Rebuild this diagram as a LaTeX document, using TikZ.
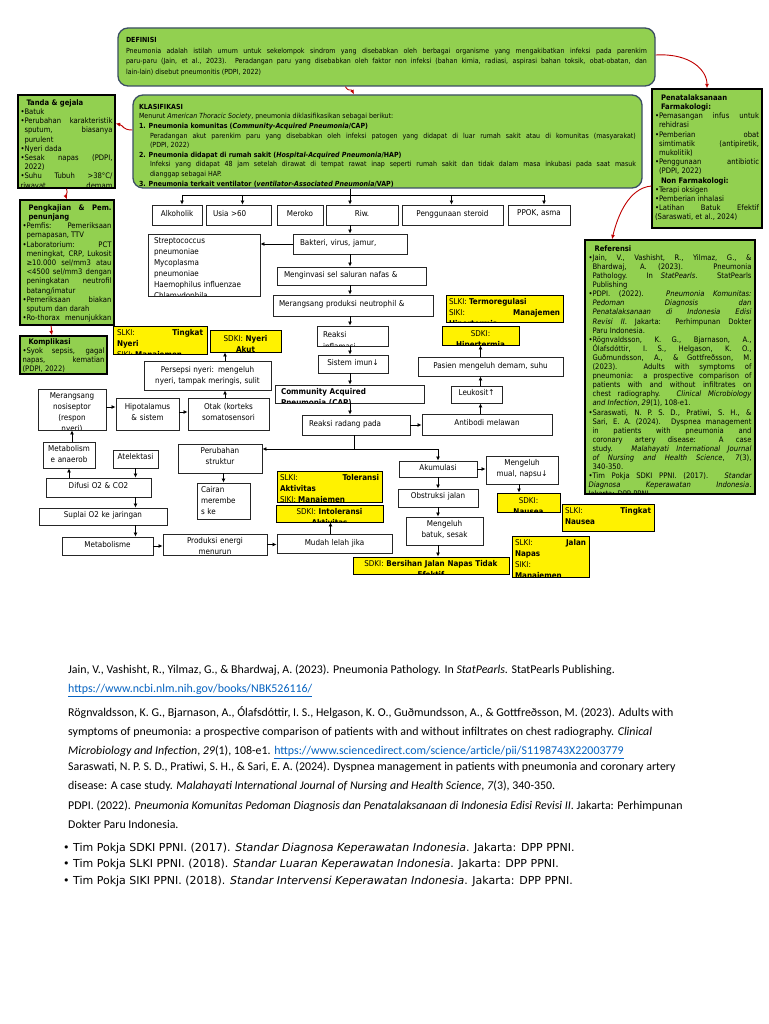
\documentclass[tikz,border=0pt]{standalone}
\usepackage{fontspec}
\IfFontExistsTF{DejaVu Sans Condensed}{\setmainfont{DejaVu Sans Condensed}}{\setmainfont{DejaVu Sans}}
\newfontfamily\dvsans{DejaVu Sans}
\newfontfamily\calib{Carlito}
\usetikzlibrary{arrows.meta, positioning, calc}
\definecolor{leafgreen}{HTML}{92D050}
\definecolor{slate}{HTML}{3B4E63}
\definecolor{linkred}{HTML}{C00000}
\definecolor{urlblue}{HTML}{0563C1}
\hyphenpenalty=10000
\exhyphenpenalty=10000
\tolerance=10000
\hbadness=10000
\hfuzz=100pt
\newcommand{\dfont}{\fontsize{7}{10.7}\selectfont}
\newcommand{\kfont}{\fontsize{7}{9.6}\selectfont}
\newcommand{\gfont}{\fontsize{7.6}{9.2}\selectfont}
\newcommand{\rfont}{\fontsize{7.6}{9.1}\selectfont}
\newcommand{\sfont}{\fontsize{8}{11}\selectfont}
\newcommand{\bitem}{\par\hangindent=4pt\hangafter=1\noindent\makebox[4pt][l]{\textbullet}}
\newcommand{\ttl}[1]{\par{\leftskip=6pt\noindent\textbf{#1}\par}}
\newcommand{\ind}[1]{\par{\leftskip=11pt\noindent #1\par}}
\tikzset{
  tpad/.store in=\txtpad, tpad=4.5pt,
  txt/.style n args={3}{path picture={%
      \node[anchor=north, inner sep=0pt, minimum size=0pt, text width=#1, align=#2]
        at ([yshift=-\txtpad]path picture bounding box.north) {#3};}},
  wbox/.style={rectangle, draw=black!85, line width=0.9pt, fill=white,
               inner sep=0pt, font=\sfont},
  ybox/.style={wbox, draw=black, fill=yellow},
  gbox/.style={rectangle, draw=black, line width=1.3pt, fill=leafgreen,
               inner sep=0pt, font=\gfont},
  rbox/.style={gbox, draw=slate, rounded corners=10pt, tpad=8.5pt},
  arr/.style={-{Latex[length=4pt, width=4pt]}, line width=0.8pt},
  link/.style={draw=linkred, line width=0.9pt, -{Latex[length=4.5pt, width=4pt]}},
  bib/.style={inner sep=0pt, align=left, font=\calib\fontsize{11.9}{19}\selectfont},
  bibitem/.style={inner sep=0pt, align=left, font=\dvsans\fontsize{11}{16.8}\selectfont},
}

\begin{document}
\begin{tikzpicture}[x=1pt, y=-1pt]
  \path[fill=white] (0,0) rectangle (768,1024);

  %% green boxes: definition, classification, side columns
  \node[rbox, minimum width=537, minimum height=58, font=\dfont,
    txt={521pt}{justify}{\textbf{DEFINISI}\\ Pneumonia adalah istilah umum untuk sekelompok sindrom yang disebabkan oleh berbagai organisme yang mengakibatkan infeksi pada parenkim\linebreak paru-paru (Jain, et al., 2023). Peradangan paru yang disebabkan oleh faktor non infeksi (bahan kimia, radiasi, aspirasi bahan toksik, obat-obatan, dan\linebreak lain-lain) disebut pneumonitis (PDPI, 2022)}] (def) at (386.5,57) {};
  \node[rbox, minimum width=509, minimum height=93, font=\kfont,
    txt={497pt}{justify}{\textbf{KLASIFIKASI}\\ Menurut \textit{American Thoracic Society}, pneumonia diklasifikasikan sebagai berikut:\\ \textbf{1. Pneumonia komunitas (\textit{Community-Acquired Pneumonia}/CAP)}\ind{Peradangan akut parenkim paru yang disebabkan oleh infeksi patogen yang didapat di luar rumah sakit atau di komunitas (masyarakat)\linebreak (PDPI, 2022)}\textbf{2. Pneumonia didapat di rumah sakit (\textit{Hospital-Acquired Pneumonia}/HAP)}\ind{Infeksi yang didapat 48 jam setelah dirawat di tempat rawat inap seperti rumah sakit dan tidak dalam masa inkubasi pada saat masuk\linebreak dianggap sebagai HAP.}\textbf{3. Pneumonia terkait ventilator (\textit{ventilator-Associated Pneumonia}/VAP)}}] (klas) at (387.5,141.5) {};
  \node[gbox, minimum width=97, minimum height=93, tpad=0.5pt,
    txt={92pt}{justify}{\ttl{Tanda \& gejala}\bitem Batuk\bitem Perubahan karakteristik\linebreak sputum, biasanya\linebreak purulent\bitem Nyeri dada\bitem Sesak napas (PDPI,\linebreak 2022)\bitem Suhu Tubuh >38°C/\linebreak riwayat\hfill demam}] (tanda) at (66.5,141.5) {};
  \node[gbox, minimum width=94, minimum height=125, tpad=0.5pt,
    txt={89pt}{justify}{\ttl{Pengkajian \& Pem.\linebreak penunjang}\bitem Pemfis: Pemeriksaan\linebreak pernapasan, TTV\bitem Laboratorium: PCT\linebreak meningkat, CRP, Lukosit\linebreak ≥10.000 sel/mm3 atau\linebreak <4500 sel/mm3 dengan\linebreak peningkatan neutrofil\linebreak batang/imatur\bitem Pemeriksaan biakan\linebreak sputum dan darah\bitem Ro-thorax\hfill menunjukkan}] (peng) at (67,262.5) {};
  \node[gbox, minimum width=87, minimum height=38, tpad=-1.5pt,
    txt={82pt}{justify}{\ttl{Komplikasi}\bitem Syok sepsis, gagal\linebreak napas, kematian\linebreak (PDPI, 2022)}] (komp) at (63.5,355) {};
  \node[gbox, minimum width=110, minimum height=139, tpad=1.5pt,
    txt={104pt}{justify}{\ttl{Penatalaksanaan\\ Farmakologi:}\bitem Pemasangan infus untuk\linebreak rehidrasi\bitem Pemberian obat\linebreak simtimatik (antipiretik,\linebreak mukolitik)\bitem Penggunaan antibiotic\linebreak (PDPI, 2022)\ttl{Non Farmakologi:}\bitem Terapi oksigen\bitem Pemberian inhalasi\bitem Latihan Batuk Efektif\linebreak (Saraswati, et al., 2024)}] (pena) at (707,158.5) {};
  \node[gbox, minimum width=170, minimum height=254, tpad=1.5pt, font=\rfont,
    txt={163pt}{justify}{\ttl{Referensi}\bitem Jain, V., Vashisht, R., Yilmaz, G., \&\linebreak Bhardwaj, A. (2023). Pneumonia\linebreak Pathology. In \textit{StatPearls}. StatPearls\linebreak Publishing\bitem PDPI. (2022). \textit{Pneumonia Komunitas:\linebreak Pedoman Diagnosis dan\linebreak Penatalaksanaan di Indonesia Edisi\linebreak Revisi II}. Jakarta: Perhimpunan Dokter\linebreak Paru Indonesia.\bitem Rögnvaldsson, K. G., Bjarnason, A.,\linebreak Ólafsdóttir, I. S., Helgason, K. O.,\linebreak Guðmundsson, A., \& Gottfreðsson, M.\linebreak (2023). Adults with symptoms of\linebreak pneumonia: a prospective comparison of\linebreak patients with and without infiltrates on\linebreak chest radiography. \textit{Clinical Microbiology\linebreak and Infection}, \textit{29}(1), 108-e1.\bitem Saraswati, N. P. S. D., Pratiwi, S. H., \&\linebreak Sari, E. A. (2024). Dyspnea management\linebreak in patients with pneumonia and\linebreak coronary artery disease: A case\linebreak study. \textit{Malahayati International Journal\linebreak of Nursing and Health Science}, \textit{7}(3),\linebreak 340-350.\bitem Tim Pokja SDKI PPNI. (2017). \textit{Standar\linebreak Diagnosa Keperawatan Indonesia}.\linebreak Jakarta: DPP PPNI.}] (refs) at (670,367) {};

  %% risk factors row
  \node[wbox, minimum width=50, minimum height=20, txt={46pt}{center}{Alkoholik}] (alko) at (177,215) {};
  \node[wbox, minimum width=65, minimum height=20, txt={51pt}{left}{Usia >60}] (usia) at (238.5,215) {};
  \node[wbox, minimum width=46, minimum height=20, txt={42pt}{center}{Meroko}] (mero) at (300,215) {};
  \node[wbox, minimum width=72, minimum height=20, txt={68pt}{center}{Riw.}] (riw) at (362,215) {};
  \node[wbox, minimum width=101, minimum height=20, txt={97pt}{center}{Penggunaan steroid}] (ster) at (452.5,215) {};
  \node[wbox, minimum width=62, minimum height=20, txt={58pt}{center}{PPOK, asma}] (ppok) at (539,215) {};

  %% main chain
  \node[wbox, minimum width=114, minimum height=20, txt={100pt}{left}{Bakteri, virus, jamur,}] (bakt) at (350,244) {};
  \node[wbox, minimum width=112, minimum height=62, tpad=3pt,
    txt={100pt}{left}{Streptococcus\\ pneumoniae\\ Mycoplasma\\ pneumoniae\\ Haemophilus influenzae\\ Chlamydophila}] (strep) at (204,265) {};
  \node[wbox, minimum width=149, minimum height=18, tpad=3.5pt, txt={135pt}{left}{Menginvasi sel saluran nafas \&}] (inva) at (351.5,276) {};
  \node[wbox, minimum width=160, minimum height=21, txt={148pt}{left}{Merangsang produksi neutrophil \&}] (neut) at (353,305.5) {};
  \node[wbox, minimum width=71, minimum height=20, txt={59pt}{left}{Reaksi\\[1.5pt] inflamasi}] (reak) at (352.5,336) {};
  \node[wbox, minimum width=70, minimum height=18, tpad=3.5pt, txt={66pt}{center}{Sistem imun↓}] (imun) at (353,364) {};
  \node[wbox, minimum width=149, minimum height=18, tpad=3pt, txt={137pt}{left}{\textbf{Community Acquired}\\ \textbf{Pneumonia (CAP)}}] (cap) at (349.5,394) {};
  \node[wbox, minimum width=108, minimum height=20, txt={94pt}{left}{Reaksi radang pada}] (rad) at (356,425) {};
  \node[wbox, minimum width=130, minimum height=21, txt={126pt}{center}{Antibodi melawan}] (anti) at (487,424.5) {};
  \node[wbox, minimum width=51, minimum height=17, tpad=3pt, txt={47pt}{center}{Leukosit↑}] (leuk) at (476.5,394.5) {};
  \node[wbox, minimum width=145, minimum height=19, txt={141pt}{center}{Pasien mengeluh demam, suhu}] (pas) at (490.5,366.5) {};
  \node[ybox, minimum width=77, minimum height=19, txt={73pt}{center}{SDKI:\\ \textbf{Hipertermia}}] (sdkih) at (480.5,335.5) {};
  \node[ybox, minimum width=117, minimum height=27, tpad=3pt,
    txt={111pt}{justify}{SLKI: \textbf{Termoregulasi}\\ SIKI: \textbf{Manajemen}\linebreak \textbf{Hipertermia}}] (slkit) at (504.5,308.5) {};

  %% pain branch
  \node[ybox, minimum width=71, minimum height=22, txt={67pt}{center}{SDKI: \textbf{Nyeri}\\ \textbf{Akut}}] (sdkin) at (245.5,341) {};
  \node[ybox, minimum width=94, minimum height=28, tpad=3pt,
    txt={86pt}{justify}{SLKI: \textbf{Tingkat}\linebreak \textbf{Nyeri}\\ SIKI: \textbf{Manajemen}}] (slkin) at (160,340) {};
  \node[wbox, minimum width=127, minimum height=29, txt={123pt}{center}{Persepsi nyeri: mengeluh\\ nyeri, tampak meringis, sulit}] (pers) at (207.5,375.5) {};
  \node[wbox, minimum width=68, minimum height=41, tpad=3pt, txt={64pt}{center}{Merangsang\\ nosiseptor\\ (respon\\ nyeri)}] (noci) at (72,409.5) {};
  \node[wbox, minimum width=63, minimum height=32, txt={59pt}{center}{Hipotalamus\\ \& sistem}] (hipo) at (147.5,414) {};
  \node[wbox, minimum width=81, minimum height=32, txt={77pt}{center}{Otak (korteks\\ somatosensori}] (otak) at (228.5,414) {};

  %% oxygen / energy branch
  \node[wbox, minimum width=52, minimum height=26, tpad=3pt, txt={48pt}{center}{Metabolism\\ e anaerob}] (ana) at (69,455) {};
  \node[wbox, minimum width=45, minimum height=18, tpad=3pt, txt={43pt}{center}{Atelektasi}] (atel) at (135.5,459) {};
  \node[wbox, minimum width=105, minimum height=19, tpad=3.5pt, txt={101pt}{center}{Difusi O2 \& CO2}] (dif) at (98.5,487.5) {};
  \node[wbox, minimum width=128, minimum height=17, tpad=3pt, txt={124pt}{center}{Suplai O2 ke jaringan}] (sup) at (103,516.5) {};
  \node[wbox, minimum width=91, minimum height=18, tpad=3.5pt, txt={87pt}{center}{Metabolisme}] (meta) at (107.5,546) {};
  \node[wbox, minimum width=104, minimum height=21, tpad=3pt, txt={100pt}{center}{Produksi energi\\ menurun}] (prod) at (215,544.5) {};
  \node[wbox, minimum width=84, minimum height=29, tpad=3pt, txt={80pt}{center}{Perubahan\\ struktur}] (perub) at (220,458.5) {};
  \node[wbox, minimum width=53, minimum height=36, tpad=3pt, txt={45pt}{left}{Cairan\\ merembe\\ s ke}] (cair) at (223.5,501) {};
  \node[wbox, minimum width=115, minimum height=19, txt={111pt}{center}{Mudah lelah jika}] (mudah) at (334.5,543.5) {};
  \node[ybox, minimum width=107, minimum height=17, tpad=3pt, txt={103pt}{center}{SDKI: \textbf{Intoleransi}\\ \textbf{Aktivitas}}] (sdkii) at (329.5,513.5) {};
  \node[ybox, minimum width=105, minimum height=31, tpad=3pt,
    txt={99pt}{justify}{SLKI: \textbf{Toleransi}\linebreak \textbf{Aktivitas}\\ SIKI: \textbf{Manajemen}}] (slkito) at (329.5,486.5) {};

  %% airway branch
  \node[wbox, minimum width=78, minimum height=16, tpad=2.5pt, txt={74pt}{center}{Akumulasi}] (akum) at (438,469) {};
  \node[wbox, minimum width=72, minimum height=28, tpad=3pt, txt={68pt}{center}{Mengeluh\\ mual, napsu↓}] (mual) at (522,470) {};
  \node[ybox, minimum width=63, minimum height=19, txt={59pt}{center}{SDKI:\\ \textbf{Nausea}}] (sdkina) at (528.5,502.5) {};
  \node[wbox, minimum width=80, minimum height=18, tpad=3pt, txt={76pt}{center}{Obstruksi jalan}] (obst) at (438,498) {};
  \node[wbox, minimum width=77, minimum height=28, tpad=3pt, txt={73pt}{center}{Mengeluh\\ batuk, sesak}] (batuk) at (444.5,531) {};
  \node[ybox, minimum width=156, minimum height=17, tpad=3pt, txt={152pt}{center}{SDKI: \textbf{Bersihan Jalan Napas Tidak}\\ \textbf{Efektif}}] (sdkib) at (431,565.5) {};
  \node[ybox, minimum width=77, minimum height=41, tpad=3pt,
    txt={71pt}{justify}{SLKI: \textbf{Jalan}\linebreak \textbf{Napas}\\ SIKI:\\ \textbf{Manajemen}}] (slkij) at (550.5,556.5) {};
  \node[ybox, minimum width=92, minimum height=27, tpad=3pt,
    txt={86pt}{justify}{SLKI: \textbf{Tingkat}\linebreak \textbf{Nausea}}] (slkina) at (608,517.5) {};

  %% black connectors
  \coordinate (bus) at (350,195);
  \draw[line width=0.8pt] (bus |- klas.south) -- (bus);
  \draw[line width=0.8pt] ([xshift=5]alko.north |- bus) -- ([xshift=5]ppok.north |- bus);
  \foreach \n/\dx in {alko/5, usia/4, riw/-12, ster/-1, ppok/5}
    \draw[arr] ([xshift=\dx]\n.north |- bus) -- ([xshift=\dx]\n.north);
  \draw[arr] (bakt.north |- riw.south) -- (bakt.north);
  \draw[arr] (bakt.west) -- (strep.east |- bakt.west);
  \foreach \a/\b in {bakt/inva, inva/neut, neut/reak, reak/imun, imun/cap, cap/rad}
    \draw[arr] (\a.south -| bakt.south) -- (\b.north -| bakt.south);
  \draw[arr] (rad.east) -- (anti.west |- rad.east);
  \foreach \a/\b in {anti/leuk, leuk/pas, pas/sdkih}
    \draw[arr] (\a.north -| sdkih.south) -- (\b.south -| sdkih.south);
  \coordinate (split) at (354,449);
  \draw[line width=0.8pt] (split |- rad.south) -- (split);
  \draw[arr] (split) -- (perub.east |- split);
  \draw[arr] (split) -| (akum.north);
  \draw[arr] (akum.east) -- (mual.west |- akum.east);
  \draw[arr] ([xshift=-3]mual.south) -- ([xshift=-3]mual.south |- sdkina.north);
  \foreach \a/\b in {akum/obst, obst/batuk, batuk/sdkib}
    \draw[arr] (\a.south -| akum.south) -- (\b.north -| akum.south);
  \draw[arr] (perub.south -| cair.north) -- (cair.north);
  \draw[arr] ([xshift=-3.5]otak.north) -- ([xshift=-3.5]otak.north |- pers.south);
  \draw[arr] ([xshift=-3.5]otak.north |- pers.north) -- ([xshift=-3.5]otak.north |- sdkin.south);
  \draw[arr] ([yshift=2.5]noci.east) -- ([yshift=2.5]noci.east -| hipo.west);
  \draw[arr] ([yshift=2]hipo.east) -- ([yshift=2]hipo.east -| otak.west);
  \draw[arr] (ana.north -| noci.south) -- (noci.south);
  \draw[arr] (dif.north -| ana.south) -- (ana.south);
  \draw[arr] (atel.south) -- (atel.south |- dif.north);
  \draw[arr] (atel.south |- dif.south) -- (atel.south |- sup.north);
  \draw[arr] (atel.south |- sup.south) -- (atel.south |- meta.north);
  \draw[arr] (meta.east) -- (prod.west |- meta.east);
  \draw[arr] (prod.east) -- (mudah.west |- prod.east);
  \draw[arr] ([xshift=-4]mudah.north) -- ([xshift=-4]mudah.north |- sdkii.south);

  %% red links between the green boxes
  \draw[link] ([xshift=-41]def.south) .. controls +(3,6) and +(-3,-6) .. ([xshift=-33.5]klas.north);
  \draw[link] ([yshift=2]def.east) .. controls +(35,-2) and +(0,-18) .. (pena.north);
  \draw[link] ([yshift=11.5]klas.west) .. controls +(-10,0) and +(8,2) .. ([yshift=18]tanda.east);
  \draw[link] (tanda.south) .. controls +(2,6) and +(-2,-5) .. (peng.north);
  \draw[link] ([xshift=-16]peng.south) .. controls +(1,5) and +(-1,-5) .. ([xshift=-11.5]komp.north);
  \draw[link] ([yshift=-27.5]pena.west) .. controls +(-22,2) and +(6,-25) .. ([xshift=-58]refs.north);

  %% reference list below the map
  \node[bib, anchor=north west] (bibjain) at (68,664.5) {Jain, V., Vashisht, R., Yilmaz, G., \& Bhardwaj, A. (2023). Pneumonia Pathology. In \textit{StatPearls}. StatPearls Publishing.\\ \textcolor{urlblue}{\underline{https://www.ncbi.nlm.nih.gov/books/NBK526116/}}};
  \node[bib, anchor=north west] (bibrogn) at (68,706.5) {Rögnvaldsson, K. G., Bjarnason, A., Ólafsdóttir, I. S., Helgason, K. O., Guðmundsson, A., \& Gottfreðsson, M. (2023). Adults with\\ symptoms of pneumonia: a prospective comparison of patients with and without infiltrates on chest radiography. \textit{Clinical}\\ \textit{Microbiology and Infection}, \textit{29}(1), 108-e1. \textcolor{urlblue}{\underline{https://www.sciencedirect.com/science/article/pii/S1198743X22003779}}};
  \node[bib, anchor=north west] (bibsara) at (68,761.5) {Saraswati, N. P. S. D., Pratiwi, S. H., \& Sari, E. A. (2024). Dyspnea management in patients with pneumonia and coronary artery\\ disease: A case study. \textit{Malahayati International Journal of Nursing and Health Science}, \textit{7}(3), 340-350.};
  \node[bib, anchor=north west] (bibpdpi) at (68,800.5) {PDPI. (2022). \textit{Pneumonia Komunitas Pedoman Diagnosis dan Penatalaksanaan di Indonesia Edisi Revisi II}. Jakarta: Perhimpunan\\ Dokter Paru Indonesia.};
  \node[bibitem, anchor=north west] (bibpokja) at (63,842.5) {• Tim Pokja SDKI PPNI. (2017). \textit{Standar Diagnosa Keperawatan Indonesia}. Jakarta: DPP PPNI.\\ • Tim Pokja SLKI PPNI. (2018). \textit{Standar Luaran Keperawatan Indonesia}. Jakarta: DPP PPNI.\\ • Tim Pokja SIKI PPNI. (2018). \textit{Standar Intervensi Keperawatan Indonesia}. Jakarta: DPP PPNI.};
\end{tikzpicture}
\end{document}
